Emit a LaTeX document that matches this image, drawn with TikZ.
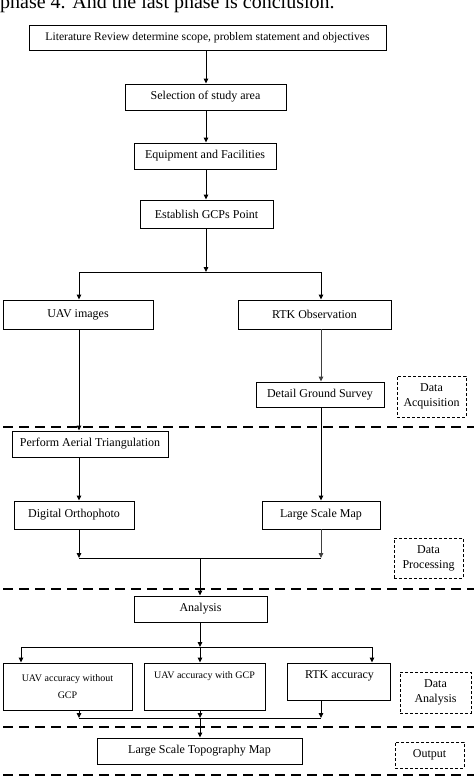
\documentclass[tikz,border=0pt]{standalone}
\usepackage{fontspec}
\setmainfont{Liberation Serif}
\usetikzlibrary{arrows.meta,calc}
\begin{document}
\begin{tikzpicture}[x=1pt,y=-1pt,
  box/.style={draw=black, line width=0.9pt, fill=white, inner sep=0pt, font=\fontsize{12}{14}\selectfont, align=center},
  phasebox/.style={draw=black, line width=0.9pt, dash pattern=on 3pt off 2pt, inner sep=0pt, font=\fontsize{12}{15}\selectfont, align=center},
  sep/.style={line width=1.6pt, dash pattern=on 10pt off 6pt},
  arr/.style={line width=0.9pt, -{Triangle[length=5pt,width=4.5pt]}},
  ln/.style={line width=0.9pt}]
\useasboundingbox (0,0) rectangle (474,776);
\fill[white] (0,0) rectangle (474,776);
% cut-off text line at the top
\node[anchor=base west, inner sep=0pt, font=\fontsize{20}{22}\selectfont] (toptext) at (0,9) {phase 4. And the last phase is conclusion.};
% boxes
\node[box, minimum width=357pt, minimum height=25pt, font=\fontsize{11.6}{13}\selectfont] (lit) at (207.5,37.5) {Literature Review determine scope, problem statement and objectives};
\node[box, minimum width=161pt, minimum height=26pt] (sel) at (205.5,97) {Selection of study area};
\node[box, minimum width=142pt, minimum height=26pt] (equ) at (205,156) {Equipment and Facilities};
\node[box, minimum width=133pt, minimum height=28pt] (est) at (206.5,214) {Establish GCPs Point};
\node[box, minimum width=150pt, minimum height=29pt] (uav) at (78,314.5) {UAV images};
\node[box, minimum width=153pt, minimum height=29pt] (rtk) at (314.5,314.5) {RTK Observation};
\node[box, minimum width=128pt, minimum height=25pt] (det) at (320,394.5) {Detail Ground Survey};
\node[phasebox, minimum width=69pt, minimum height=41pt] (acq) at (431.5,396.5) {Data\\Acquisition};
\node[box, minimum width=156pt, minimum height=26pt] (perf) at (90,444) {Perform Aerial Triangulation};
\node[box, minimum width=120pt, minimum height=28pt] (dig) at (74,515) {Digital Orthophoto};
\node[box, minimum width=118pt, minimum height=28pt] (lsm) at (321,515) {Large Scale Map};
\node[phasebox, minimum width=69pt, minimum height=40pt] (proc) at (428.5,558) {Data\\Processing};
\node[box, minimum width=133pt, minimum height=26pt] (ana) at (200.5,609) {Analysis};
\node[box, minimum width=129pt, minimum height=47pt, font=\fontsize{10}{17}\selectfont] (ua1) at (67.5,686.5) {UAV accuracy without\\GCP};
\node[box, minimum width=121pt, minimum height=47pt] (ua2) at (204.5,686.5) {};
\node[inner sep=0pt, font=\fontsize{10}{12}\selectfont] (ua2t) at ($(ua2.north)+(0,14)$) {UAV accuracy with GCP};
\node[box, minimum width=103pt, minimum height=37pt] (rtka) at (338.5,681.5) {};
\node[inner sep=0pt, font=\fontsize{12}{14}\selectfont] (rtkat) at ($(rtka.north)+(1,13)$) {RTK accuracy};
\node[phasebox, minimum width=71pt, minimum height=41pt] (dana) at (435.5,692.5) {Data\\Analysis};
\node[box, minimum width=205pt, minimum height=26pt] (topo) at (199.5,751) {Large Scale Topography Map};
\node[phasebox, minimum width=69pt, minimum height=26pt] (outp) at (429.5,755) {Output};
% junction coordinates
\coordinate (j1) at (206,272);
\coordinate (j1l) at (79,272);
\coordinate (j1r) at (321,272);
\coordinate (j2) at (200,558);
\coordinate (j2l) at (79,558);
\coordinate (j2r) at (321,558);
\coordinate (j3) at (200,647);
\coordinate (j3l) at (21,647);
\coordinate (j3r) at (372,647);
\coordinate (j4) at (200,718);
\coordinate (j4l) at (79,718);
\coordinate (j4r) at (321,718);
% separators
\draw[sep] (3,427) -- (474,427);
\draw[sep] (3,589) -- (474,589);
\draw[sep] (3,727) -- (474,727);
\draw[sep, line width=2.2pt] (3,775) -- (474,775);
% connectors
\draw[arr] (lit.south -| 206,0) -- (sel.north -| 206,0);
\draw[arr] (sel.south -| 206,0) -- (equ.north -| 206,0);
\draw[arr] (equ.south -| 206,0) -- (est.north -| 206,0);
\draw[arr] (est.south -| j1) -- (j1);
\draw[ln] (j1l) -- (j1r);
\draw[arr] (j1l) -- (uav.north -| j1l);
\draw[arr] (j1r) -- (rtk.north -| j1r);
\draw[arr] (uav.south -| j1l) -- (perf.north -| j1l);
\draw[arr, draw=black!75, fill=black!75] (rtk.south -| j1r) -- (det.north -| j1r);
\draw[arr] (perf.south -| j1l) -- (dig.north -| j1l);
\draw[arr] (det.south -| j1r) -- (lsm.north -| j1r);
\draw[arr] (dig.south -| j2l) -- (j2l);
\draw[arr, draw=black!75, fill=black!75] (lsm.south -| j2r) -- (j2r);
\draw[ln] (j2l) -- (j2r);
\draw[arr] (j2) -- (ana.north -| j2);
\draw[arr] (ana.south -| j3) -- (j3);
\draw[ln] (j3l) -- (j3r);
\draw[arr] (j3l) -- (ua1.north -| j3l);
\draw[arr] (j3) -- (ua2.north -| j3);
\draw[arr] (j3r) -- (rtka.north -| j3r);
\draw[arr] (ua1.south -| j4l) -- (j4l);
\draw[arr] (ua2.south -| j4) -- (j4);
\draw[arr] (rtka.south -| j4r) -- (j4r);
\draw[ln] (j4l) -- (j4r);
\draw[arr] (j4) -- (topo.north -| j4);
\end{tikzpicture}
\end{document}
